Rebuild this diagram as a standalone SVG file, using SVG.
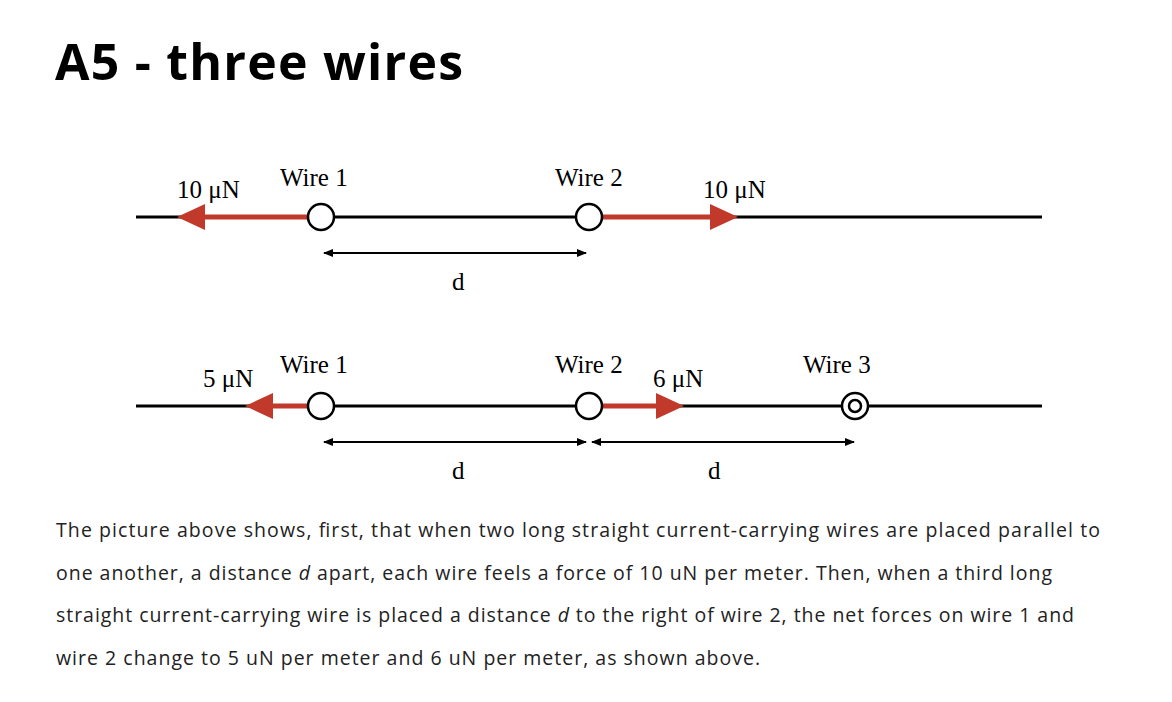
<svg xmlns="http://www.w3.org/2000/svg" width="1172" height="702" viewBox="0 0 1172 702">
<style>
.t{font-family:"Liberation Serif",serif;font-size:25px;fill:#000}
.p{font-family:"Open Sans","Liberation Sans",sans-serif;font-size:19.5px;fill:#222}
.ln{stroke:#000;stroke-width:3;fill:none}
.red{stroke:#c0392b;stroke-width:5;fill:none}
.dim{stroke:#000;stroke-width:2;fill:none}
.w{fill:#fff;stroke:#000;stroke-width:2.5}
</style>
<defs>
<marker id="ah" markerWidth="10" markerHeight="10" refX="9" refY="5" orient="auto-start-reverse" markerUnits="userSpaceOnUse"><path d="M0,1 L10,5 L0,9 Z" fill="#000"/></marker>
</defs>
<rect width="1172" height="702" fill="#fff"/>
<text x="55" y="80" font-family="'Open Sans','Liberation Sans',sans-serif" font-weight="bold" font-size="50" fill="#000" textLength="408">A5 - three wires</text>
<g id="connectors">
<line class="ln" x1="136" y1="217" x2="1042" y2="217"/>
<line class="ln" x1="136" y1="406" x2="1042" y2="406"/>
<line class="red" x1="308" y1="217" x2="200" y2="217"/><polygon points="205,204 177,217 205,230" fill="#c0392b"/>
<line class="red" x1="602" y1="217" x2="712" y2="217"/><polygon points="710,204 738,217 710,230" fill="#c0392b"/>
<line class="red" x1="308" y1="406" x2="270" y2="406"/><polygon points="273,393 245,406 273,419" fill="#c0392b"/>
<line class="red" x1="602" y1="406" x2="660" y2="406"/><polygon points="656,393 684,406 656,419" fill="#c0392b"/>
<line class="dim" x1="324" y1="253" x2="586" y2="253" marker-start="url(#ah)" marker-end="url(#ah)"/>
<line class="dim" x1="324" y1="442" x2="586" y2="442" marker-start="url(#ah)" marker-end="url(#ah)"/>
<line class="dim" x1="592" y1="442" x2="854" y2="442" marker-start="url(#ah)" marker-end="url(#ah)"/>
</g>
<g id="wire1a"><circle class="w" cx="321" cy="217" r="13"/><text class="t" x="280" y="186">Wire 1</text></g>
<g id="wire2a"><circle class="w" cx="589" cy="217" r="13"/><text class="t" x="555" y="186">Wire 2</text></g>
<g id="wire1b"><circle class="w" cx="321" cy="406" r="13"/><text class="t" x="280" y="373">Wire 1</text></g>
<g id="wire2b"><circle class="w" cx="589" cy="406" r="13"/><text class="t" x="555" y="373">Wire 2</text></g>
<g id="wire3"><circle class="w" cx="855" cy="406" r="13"/><circle class="w" cx="855" cy="406" r="6"/><text class="t" x="803" y="373">Wire 3</text></g>
<g id="labels">
<text class="t" x="177" y="198">10 μN</text>
<text class="t" x="703" y="198">10 μN</text>
<text class="t" x="203" y="387">5 μN</text>
<text class="t" x="653" y="387">6 μN</text>
<text class="t" x="452" y="290">d</text>
<text class="t" x="452" y="479">d</text>
<text class="t" x="708" y="479">d</text>
</g>
<g id="para">
<text class="p" x="56" y="537" textLength="1044">The picture above shows, first, that when two long straight current-carrying wires are placed parallel to</text>
<text class="p" x="56" y="580" textLength="996">one another, a distance <tspan font-style="italic">d</tspan> apart, each wire feels a force of 10 uN per meter. Then, when a third long</text>
<text class="p" x="56" y="622" textLength="1018">straight current-carrying wire is placed a distance <tspan font-style="italic">d</tspan> to the right of wire 2, the net forces on wire 1 and</text>
<text class="p" x="56" y="665" textLength="704">wire 2 change to 5 uN per meter and 6 uN per meter, as shown above.</text>
</g>
</svg>
